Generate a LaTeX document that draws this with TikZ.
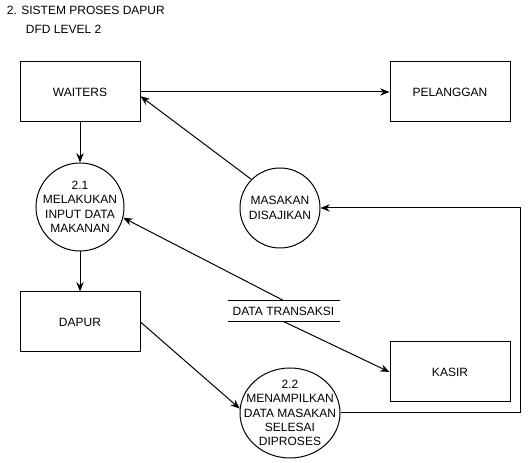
\documentclass[tikz,border=0pt]{standalone}
\usepackage{fontspec}
\setmainfont{Liberation Sans}
\usetikzlibrary{arrows.meta,shapes.geometric}

\tikzset{every picture/.style={line width=0.75pt}}
\tikzset{
  entity/.style={draw, rectangle, minimum width=90pt, minimum height=45pt, inner sep=0pt},
  proc/.style={draw, circle, minimum size=#1, inner sep=0pt},
  ptext/.style={align=center, font=\fontsize{9}{10.8}\selectfont},
  flow/.style={-{Stealth[length=7pt,width=5.5pt]}}
}

\begin{document}
\begin{tikzpicture}[x=0.75pt,y=0.75pt,yscale=-1,xscale=1,font=\fontsize{9}{10.8}\selectfont]
\useasboundingbox (0,0) rectangle (529,463);

% Text Node
\node (title) [anchor=west] at (2,10.5) {2. SISTEM PROSES DAPUR};
% Text Node
\node (level) [anchor=west] at (21,29.5) {DFD LEVEL 2};

%Shape: Rectangle [id:waiters]
\node (waiters) [entity] at (80,92) {WAITERS};
%Shape: Rectangle [id:pelanggan]
\node (pelanggan) [entity] at (450,92) {PELANGGAN};
%Shape: Rectangle [id:dapur]
\node (dapur) [entity] at (80,322) {DAPUR};
%Shape: Rectangle [id:kasir]
\node (kasir) [entity] at (450,372) {KASIR};

%Shape: Circle [id:c21]
\node (c21) [proc=66pt, label={[ptext]center:2.1\\MELAKUKAN\\INPUT DATA\\MAKANAN}] at (80,207) {};
%Shape: Circle [id:masakan]
\node (masakan) [proc=60pt, label={[ptext]center:MASAKAN\\DISAJIKAN}] at (280,208) {};
%Shape: Ellipse [id:c22]
\node (c22) [draw, ellipse, inner sep=0pt, minimum width=75pt, minimum height=67.5pt,
  label={[ptext]center:2.2\\MENAMPILKAN\\DATA MASAKAN\\SELESAI\\DIPROSES}] at (290,413) {};

%Data Store [id:store]
\node (store) [minimum width=83.25pt, minimum height=15pt, inner sep=0pt] at (283.5,311) {DATA TRANSAKSI};
\draw (store.north west) -- (store.north east) ;
\draw (store.south west) -- (store.south east) ;

%Straight Lines
\draw [flow] (waiters.east) -- (pelanggan.west) ;
\draw [flow] (waiters.south) -- (c21.north) ;
\draw [flow] (c21.south) -- (dapur.north) ;
\draw [flow] (masakan.135) -- (waiters.-4) ;
\draw [flow] (store.north) -- (c21.-14) ;
\draw [flow] (store.south) -- (kasir.west) ;
\draw [flow] (dapur.east) -- (c22.175) ;

%Connector
\coordinate (bend) at (520,208);
\draw [flow] (c22.east) -| (bend) -- (masakan.east) ;

\end{tikzpicture}
\end{document}
